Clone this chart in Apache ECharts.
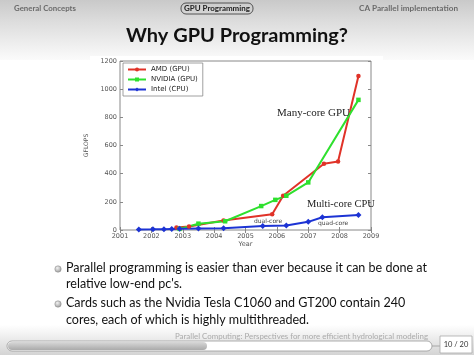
<!DOCTYPE html>
<html><head><meta charset="utf-8">
<script src="https://cdn.jsdelivr.net/npm/echarts@6/dist/echarts.min.js"></script>
<style>html,body{margin:0;padding:0;background:#fff}#c{width:474px;height:355px}</style>
</head><body><div id="c"></div>
<script>
var seriesNames = ['AMD (GPU)', 'NVIDIA (GPU)', 'Intel (CPU)'];
var amdYears = [2002.8, 2003.2, 2004.3, 2005.85, 2006.2, 2007.5, 2007.95, 2008.6];
var amdVals  = [18, 25, 68, 112, 243, 470, 486, 1093];
var nvYears  = [2002.9, 2003.5, 2004.35, 2005.5, 2005.95, 2006.3, 2007.0, 2008.6];
var nvVals   = [8, 45, 62, 170, 214, 243, 338, 924];
var intelYears = [2001.6, 2002.05, 2002.4, 2002.65, 2002.9, 2003.5, 2004.3, 2005.55, 2006.3, 2007.0, 2007.45, 2008.6];
var intelVals  = [4, 5, 6, 7, 8, 10, 12, 28, 32, 58, 90, 106];
var xTicks = [2001, 2002, 2003, 2004, 2005, 2006, 2007, 2008, 2009];
var yTicks = [0, 200, 400, 600, 800, 1000, 1200];
var bullets = [
  ['Parallel programming is easier than ever because it can be done at', "relative low-end pc's."],
  ['Cards such as the Nvidia Tesla C1060 and GT200 contain 240', 'cores, each of which is highly multithreaded.']
];

function pairs(xs, ys){ return xs.map(function(x,i){return [x, ys[i]];}); }
var mctx = document.createElement('canvas').getContext('2d');
function measure(font, text){ mctx.font = font; return mctx.measureText(text).width; }
function fitText(text, font, x, y, targetW, fill){
  var s = targetW / measure(font, text);
  return {type:'text', x:x, y:y, scaleX:s, originX:0, originY:0,
    style:{text:text, font:font, fill:fill, textAlign:'left', textVerticalAlign:'middle'}};
}

var chart = echarts.init(document.getElementById('c'), null, {renderer:'canvas'});
var SANS = 'DejaVu Sans';
var BODY = 'Lato';
var tickFont = {fontSize: 6.5, color: '#555', fontFamily: SANS};

var graphics = [
  {type:'rect', shape:{x:0,y:0,width:474,height:60}, z:-10,
   style:{fill:new echarts.graphic.LinearGradient(0,0,0,1,[{offset:0,color:'#c9c9c9'},{offset:0.35,color:'#dcdcdc'},{offset:1,color:'#fbfbfb'}])}},
  {type:'rect', shape:{x:0,y:325,width:474,height:30}, z:-10,
   style:{fill:new echarts.graphic.LinearGradient(0,0,0,1,[{offset:0,color:'#ffffff'},{offset:1,color:'#d4d4d4'}])}},
  fitText('General Concepts', 'bold 8px '+BODY, 14, 8.5, 62, '#6a6a6a'),
  {type:'rect', shape:{x:181,y:3,width:72,height:11,r:5}, style:{fill:'none', stroke:'#333', lineWidth:0.8}},
  fitText('GPU Programming', 'bold 8px '+BODY, 184, 8.5, 66, '#222'),
  fitText('CA Parallel implementation', 'bold 8px '+BODY, 359, 8.5, 99, '#6a6a6a'),
  fitText('Why GPU Programming?', 'bold 19px '+BODY, 126, 36, 222, '#111'),
  {type:'rect', shape:{x:90,y:56,width:293,height:192}, z:-5, style:{fill:'#ffffff'}},
  {type:'text', x:277, y:113, z:20, style:{text:'Many-core GPU', font:'11px "Liberation Serif"', fill:'#222', textVerticalAlign:'middle'}},
  {type:'text', x:307, y:204, z:20, style:{text:'Multi-core CPU', font:'10.5px "Liberation Serif"', fill:'#222', textVerticalAlign:'middle'}},
  {type:'text', x:254, y:221, z:20, style:{text:'dual-core', font:'6px '+SANS, fill:'#444', textVerticalAlign:'middle'}},
  {type:'text', x:318, y:223, z:20, style:{text:'quad-core', font:'6px '+SANS, fill:'#444', textVerticalAlign:'middle'}},
  fitText('Parallel Computing: Perspectives for more efficient hydrological modeling', '7px '+BODY, 175, 337, 253, '#aaa'),
  {type:'rect', shape:{x:7,y:341,width:425,height:10,r:5}, style:{fill:'#fff', stroke:'#999', lineWidth:0.8}},
  {type:'rect', shape:{x:8,y:342,width:199,height:8,r:4},
   style:{fill:new echarts.graphic.LinearGradient(0,0,0,1,[{offset:0,color:'#d8d8d8'},{offset:1,color:'#aaaaaa'}])}},
  {type:'line', shape:{x1:432,y1:346,x2:440,y2:346}, style:{stroke:'#999', lineWidth:0.8}},
  {type:'rect', shape:{x:440,y:336,width:32,height:17}, style:{fill:'#fff', stroke:'#aaa', lineWidth:0.8}},
  {type:'text', x:456, y:345, style:{text:'10 / 20', font:'7.5px '+BODY, fill:'#333', textAlign:'center', textVerticalAlign:'middle'}}
];
var lineY = [[268, 284], [303, 320]];
var bodyFont = '13.5px ' + BODY;
var bodyScale = 361 / measure(bodyFont, bullets[0][0]);
bullets.forEach(function(b, i){
  graphics.push({type:'circle', shape:{cx:58, cy:lineY[i][0]+1, r:3.2},
    style:{fill:new echarts.graphic.RadialGradient(0.4,0.35,0.8,[{offset:0,color:'#f2f2f2'},{offset:1,color:'#8a8a8a'}]), stroke:'#888', lineWidth:0.5}});
  b.forEach(function(t, j){
    graphics.push({type:'text', x:66, y:lineY[i][j], scaleX:bodyScale, originX:0, originY:0,
      style:{text:t, font:bodyFont, fill:'#111', textVerticalAlign:'middle'}});
  });
});

var common = {type:'line', symbolSize:4.5, lineStyle:{width:2}, z:5};
var option = {
  animation:false,
  backgroundColor:'transparent',
  graphic: graphics,
  legend: {
    data: seriesNames, left:123, top:63, orient:'vertical', itemGap:3, itemWidth:18, itemHeight:5,
    padding:[3,5,3,4], borderColor:'#888', borderWidth:0.8, backgroundColor:'#fff',
    textStyle:{fontSize:7, color:'#222', fontFamily:SANS}
  },
  grid: {left:120, top:61, width:251, height:169, show:true, borderColor:'#888', borderWidth:1, backgroundColor:'#fff'},
  xAxis: [{
    type:'value', min:xTicks[0], max:xTicks[xTicks.length-1], interval:1,
    name:'Year', nameLocation:'middle', nameGap:10, nameTextStyle:{fontSize:6.5, color:'#555', fontFamily:SANS},
    axisLine:{show:false}, splitLine:{show:false},
    axisTick:{inside:true, length:3, lineStyle:{color:'#888'}},
    axisLabel:Object.assign({margin:3, formatter:function(v){return String(v);}}, tickFont)
  },{
    type:'value', position:'top', min:xTicks[0], max:xTicks[xTicks.length-1], interval:1,
    axisLine:{show:false}, splitLine:{show:false}, axisLabel:{show:false},
    axisTick:{inside:true, length:3, lineStyle:{color:'#888'}}
  }],
  yAxis: [{
    type:'value', min:yTicks[0], max:yTicks[yTicks.length-1], interval:200,
    name:'GFLOPS', nameLocation:'middle', nameGap:20, nameTextStyle:{fontSize:6, color:'#555', fontFamily:SANS},
    axisLine:{show:false}, splitLine:{show:false},
    axisTick:{inside:true, length:3, lineStyle:{color:'#888'}},
    axisLabel:Object.assign({margin:3, formatter:function(v){return String(v);}}, tickFont)
  },{
    type:'value', position:'right', min:yTicks[0], max:yTicks[yTicks.length-1], interval:200,
    axisLine:{show:false}, splitLine:{show:false}, axisLabel:{show:false},
    axisTick:{inside:true, length:3, lineStyle:{color:'#888'}}
  }],
  series: [
    Object.assign({}, common, {name:seriesNames[0], data:pairs(amdYears, amdVals), symbol:'circle', color:'#e03228', itemStyle:{color:'#e03228'}}),
    Object.assign({}, common, {name:seriesNames[1], data:pairs(nvYears, nvVals), symbol:'rect', color:'#2ee02e', itemStyle:{color:'#2ee02e'}}),
    Object.assign({}, common, {name:seriesNames[2], data:pairs(intelYears, intelVals), symbol:'diamond', symbolSize:6, color:'#1c33d4', itemStyle:{color:'#1c33d4'}})
  ]
};
chart.setOption(option);
</script></body></html>
